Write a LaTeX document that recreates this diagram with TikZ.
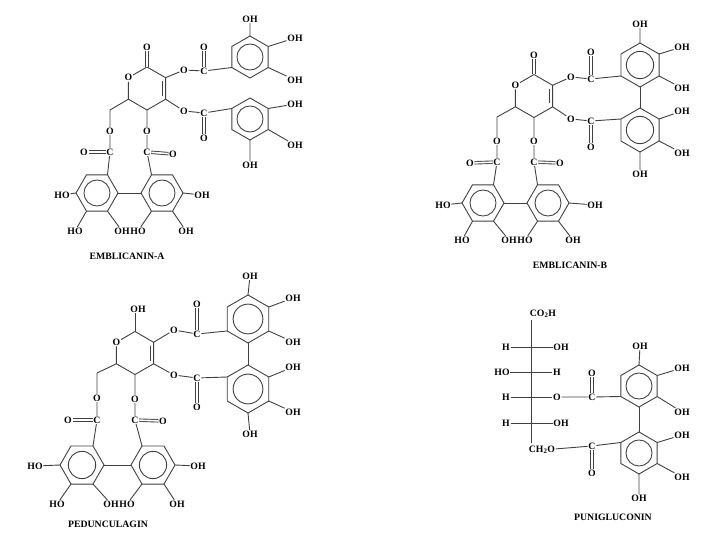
\documentclass[tikz,border=0pt]{standalone}
\usepackage{fontspec}
\setmainfont{Liberation Serif}
\newcommand\lbf{\fontsize{9.8}{10}\selectfont\bfseries}
\newcommand\ringP[4]{% pointy top: x,y,r,name
 \begin{scope}[shift={(#1,#2)}]
 \coordinate (#4t) at (270:#3); \coordinate (#4ur) at (330:#3);
 \coordinate (#4lr) at (30:#3); \coordinate (#4b) at (90:#3);
 \coordinate (#4ll) at (150:#3); \coordinate (#4ul) at (210:#3);
 \draw[bond] (#4t)--(#4ur)--(#4lr)--(#4b)--(#4ll)--(#4ul)--cycle;
 \draw[bond] (0,0) circle ({0.62*#3});
 \end{scope}}
\newcommand\ringF[4]{% flat top: x,y,r,name
 \begin{scope}[shift={(#1,#2)}]
 \coordinate (#4r) at (0:#3); \coordinate (#4br) at (60:#3);
 \coordinate (#4bl) at (120:#3); \coordinate (#4l) at (180:#3);
 \coordinate (#4tl) at (240:#3); \coordinate (#4tr) at (300:#3);
 \draw[bond] (#4r)--(#4br)--(#4bl)--(#4l)--(#4tl)--(#4tr)--cycle;
 \draw[bond] (0,0) circle ({0.62*#3});
 \end{scope}}
\begin{document}
\begin{tikzpicture}[x=1bp,y=-1bp,
 bond/.style={draw=black!75,line width=0.9bp},
 dbl/.style={bond,double,double distance=1.6bp},
 atom/.style={fill=white,inner sep=0.6bp,font=\lbf,text=black},
 title/.style={font=\lbf,text=black}]
\useasboundingbox (0,0) rectangle (708,541);
% ================= EMBLICANIN-A =================
\coordinate (a2) at (147,67); \coordinate (a3) at (165.6,77.7);
\coordinate (a4) at (165.6,99.2); \coordinate (a5) at (147,110);
\coordinate (a6) at (128.4,99.2);
\node[atom] (aO) at (128.4,77.7) {O};
\draw[bond] (a6)--(aO)--(a2)--(a3)--(a4)--(a5)--(a6);
\draw[bond] (162.6,81) -- (162.6,96);
\node[atom] (aOk) at (147,47) {O}; \draw[dbl] (a2)--(aOk);
\ringP{250}{57}{21}{ag1}
\ringP{250}{119}{21}{ag2}
\node[atom] (aOe1) at (184,70) {O}; \node[atom] (aC1) at (204,71) {C};
\node[atom] (aOc1) at (204,47) {O};
\draw[bond] (a3)--(aOe1)--(aC1)--(ag1ll); \draw[dbl] (aC1)--(aOc1);
\node[atom] (aOe2) at (184,111) {O}; \node[atom] (aC2) at (204,113) {C};
\node[atom] (aOc2) at (204,138) {O};
\draw[bond] (a4)--(aOe2)--(aC2)--(ag2ul); \draw[dbl] (aC2)--(aOc2);
\node[atom] (ag1x) at (250,19) {OH}; \node[atom] (ag1y) at (295,38) {OH};
\node[atom] (ag1z) at (295,80) {OH};
\draw[bond] (ag1t)--(ag1x) (ag1ur)--(ag1y) (ag1lr)--(ag1z);
\node[atom] (ag2x) at (295,104) {OH}; \node[atom] (ag2y) at (295,145) {OH};
\node[atom] (ag2z) at (250,165) {OH};
\draw[bond] (ag2ur)--(ag2x) (ag2lr)--(ag2y) (ag2b)--(ag2z);
\coordinate (ach) at (110,110);
\node[atom] (aO3) at (110,131) {O}; \node[atom] (aC3) at (110,152) {C};
\node[atom] (aOc3) at (84,152) {O};
\ringF{97}{193}{21}{aL} \ringF{162}{193}{21}{aR}
\draw[bond] (a6)--(ach)--(aO3)--(aC3)--(aLtr); \draw[dbl] (aC3)--(aOc3);
\node[atom] (aO4) at (147,131) {O}; \node[atom] (aC4) at (147,152) {C};
\node[atom] (aOc4) at (173,154) {O};
\draw[bond] (a5)--(aO4)--(aC4)--(aRtl); \draw[dbl] (aC4)--(aOc4);
\draw[bond] (aLr)--(aRl);
\node[atom] (aH1) at (62,195) {HO}; \node[atom] (aH2) at (75,231) {HO};
\node[atom] (aH3) at (122,231) {OH}; \node[atom] (aH4) at (138,231) {HO};
\node[atom] (aH5) at (186,231) {OH}; \node[atom] (aH6) at (202,195) {OH};
\draw[bond] (aLl)--(aH1) (aLbl)--(aH2) (aLbr)--(aH3) (aRbl)--(aH4) (aRbr)--(aH5) (aRr)--(aH6);
\node[title] (aT) at (127,256) {EMBLICANIN-A};
% ================= EMBLICANIN-B =================
\coordinate (b2) at (534,74.5); \coordinate (b3) at (552.6,85.3);
\coordinate (b4) at (552.6,106.8); \coordinate (b5) at (534,117.5);
\coordinate (b6) at (515.4,106.8);
\node[atom] (bO) at (515.4,85.3) {O};
\draw[bond] (b6)--(bO)--(b2)--(b3)--(b4)--(b5)--(b6);
\draw[bond] (549.6,88.6) -- (549.6,103.5);
\node[atom] (bOk) at (534,55) {O}; \draw[dbl] (b2)--(bOk);
\ringP{640}{65}{22}{bg1}
\ringP{640}{130}{22}{bg2}
\draw[bond] (bg1b)--(bg2t);
\node[atom] (bOe1) at (571,77) {O}; \node[atom] (bC1) at (591,79) {C};
\node[atom] (bOc1) at (591,52) {O};
\draw[bond] (b3)--(bOe1)--(bC1)--(bg1ll); \draw[dbl] (bC1)--(bOc1);
\node[atom] (bOe2) at (571,119) {O}; \node[atom] (bC2) at (591,121) {C};
\node[atom] (bOc2) at (591,147) {O};
\draw[bond] (b4)--(bOe2)--(bC2)--(bg2ul); \draw[dbl] (bC2)--(bOc2);
\node[atom] (bg1x) at (640,24) {OH}; \node[atom] (bg1y) at (682,47) {OH};
\node[atom] (bg1z) at (682,88) {OH};
\draw[bond] (bg1t)--(bg1x) (bg1ur)--(bg1y) (bg1lr)--(bg1z);
\node[atom] (bg2x) at (682,111) {OH}; \node[atom] (bg2y) at (682,153) {OH};
\node[atom] (bg2z) at (640,174) {OH};
\draw[bond] (bg2ur)--(bg2x) (bg2lr)--(bg2y) (bg2b)--(bg2z);
\coordinate (bch) at (497,117);
\node[atom] (bO3) at (497,141) {O}; \node[atom] (bC3) at (497,162) {C};
\node[atom] (bOc3) at (470,163) {O};
\ringF{483}{203}{21}{bL} \ringF{548}{203}{21}{bR}
\draw[bond] (b6)--(bch)--(bO3)--(bC3)--(bLtr); \draw[dbl] (bC3)--(bOc3);
\node[atom] (bO4) at (534,141) {O}; \node[atom] (bC4) at (534,162) {C};
\node[atom] (bOc4) at (560,163) {O};
\draw[bond] (b5)--(bO4)--(bC4)--(bRtl); \draw[dbl] (bC4)--(bOc4);
\draw[bond] (bLr)--(bRl);
\node[atom] (bH1) at (443,205) {HO}; \node[atom] (bH2) at (462,240) {HO};
\node[atom] (bH3) at (509,240) {OH}; \node[atom] (bH4) at (525,240) {HO};
\node[atom] (bH5) at (573,240) {OH}; \node[atom] (bH6) at (595,205) {OH};
\draw[bond] (bLl)--(bH1) (bLbl)--(bH2) (bLbr)--(bH3) (bRbl)--(bH4) (bRbr)--(bH5) (bRr)--(bH6);
\node[title] (bT) at (570,265) {EMBLICANIN-B};
% ================= PEDUNCULAGIN =================
\coordinate (p2) at (135,331.5); \coordinate (p3) at (153.6,342.3);
\coordinate (p4) at (153.6,363.8); \coordinate (p5) at (135,374.5);
\coordinate (p6) at (116.4,363.8);
\node[atom] (pO) at (116.4,342.3) {O};
\draw[bond] (p6)--(pO)--(p2)--(p3)--(p4)--(p5)--(p6);
\draw[bond] (150.6,345.6) -- (150.6,360.5);
\node[atom] (pOH) at (138,309) {OH}; \draw[bond] (p2)--(pOH.south-|p2);
\ringP{248}{319}{24}{pg1}
\ringP{248}{389}{24}{pg2}
\draw[bond] (pg1b)--(pg2t);
\node[atom] (pOe1) at (174,330) {O}; \node[atom] (pC1) at (197,334) {C};
\node[atom] (pOc1) at (197,304) {O};
\draw[bond] (p3)--(pOe1)--(pC1)--(pg1ll); \draw[dbl] (pC1)--(pOc1);
\node[atom] (pOe2) at (174,375) {O}; \node[atom] (pC2) at (197,378) {C};
\node[atom] (pOc2) at (197,407) {O};
\draw[bond] (p4)--(pOe2)--(pC2)--(pg2ul); \draw[dbl] (pC2)--(pOc2);
\node[atom] (pg1x) at (250,276) {OH}; \node[atom] (pg1y) at (293,298) {OH};
\node[atom] (pg1z) at (293,342) {OH};
\draw[bond] (pg1t)--(pg1x) (pg1ur)--(pg1y) (pg1lr)--(pg1z);
\node[atom] (pg2x) at (293,367) {OH}; \node[atom] (pg2y) at (293,412) {OH};
\node[atom] (pg2z) at (250,434) {OH};
\draw[bond] (pg2ur)--(pg2x) (pg2lr)--(pg2y) (pg2b)--(pg2z);
\coordinate (pch) at (97,373);
\node[atom] (pO3) at (97,398) {O}; \node[atom] (pC3) at (97,420) {C};
\node[atom] (pOc3) at (68,420) {O};
\ringF{82}{465}{22}{pL} \ringF{153}{465}{22}{pR}
\draw[bond] (p6)--(pch)--(pO3)--(pC3)--(pLtr); \draw[dbl] (pC3)--(pOc3);
\node[atom] (pO4) at (135,399) {O}; \node[atom] (pC4) at (135,420) {C};
\node[atom] (pOc4) at (163,421) {O};
\draw[bond] (p5)--(pO4)--(pC4)--(pRtl); \draw[dbl] (pC4)--(pOc4);
\draw[bond] (pLr)--(pRl);
\node[atom] (pH1) at (35,466) {HO}; \node[atom] (pH2) at (57,504) {HO};
\node[atom] (pH3) at (111,504) {OH}; \node[atom] (pH4) at (127,504) {HO};
\node[atom] (pH5) at (177,504) {OH}; \node[atom] (pH6) at (198,466) {OH};
\draw[bond] (pLl)--(pH1) (pLbl)--(pH2) (pLbr)--(pH3) (pRbl)--(pH4) (pRbr)--(pH5) (pRr)--(pH6);
\node[title] (pT) at (108,524) {PEDUNCULAGIN};
% ================= PUNIGLUCONIN =================
\node[atom] (uCO) at (543,314) {CO\textsubscript{2}H};
\node[atom] (uCH) at (542,450) {CH\textsubscript{2}O};
\coordinate (utop) at (531,320); \coordinate (ubot) at (531,443);
\draw[bond] (utop)--(ubot);
\node[atom] (uh1) at (506,347) {H}; \node[atom] (uo1) at (561,347) {OH};
\node[atom] (uh2) at (502,372) {HO}; \node[atom] (uo2) at (557,372) {H};
\node[atom] (uh3) at (506,397) {H}; \node[atom] (uo3) at (557,397) {O};
\node[atom] (uh4) at (506,423) {H}; \node[atom] (uo4) at (561,423) {OH};
\draw[bond] (uh1)--(uo1) (uh2)--(uo2) (uh3)--(uo3) (uh4)--(uo4);
\node[atom] (uC1) at (592,397) {C}; \node[atom] (uOc1) at (592,373) {O};
\node[atom] (uC2) at (592,446) {C}; \node[atom] (uOc2) at (592,473) {O};
\ringP{639}{386}{21}{ug1}
\ringP{639}{453}{21}{ug2}
\draw[bond] (ug1b)--(ug2t);
\draw[bond] (uo3)--(uC1)--(ug1ll); \draw[dbl] (uC1)--(uOc1);
\draw[bond] (uCH)--(uC2)--(ug2ul); \draw[dbl] (uC2)--(uOc2);
\node[atom] (ug1x) at (640,346) {OH}; \node[atom] (ug1y) at (682,368) {OH};
\node[atom] (ug1z) at (682,412) {OH};
\draw[bond] (ug1t)--(ug1x) (ug1ur)--(ug1y) (ug1lr)--(ug1z);
\node[atom] (ug2x) at (682,435) {OH}; \node[atom] (ug2y) at (682,477) {OH};
\node[atom] (ug2z) at (639,498) {OH};
\draw[bond] (ug2ur)--(ug2x) (ug2lr)--(ug2y) (ug2b)--(ug2z);
\node[title] (uT) at (613,517) {PUNIGLUCONIN};
\end{tikzpicture}
\end{document}
